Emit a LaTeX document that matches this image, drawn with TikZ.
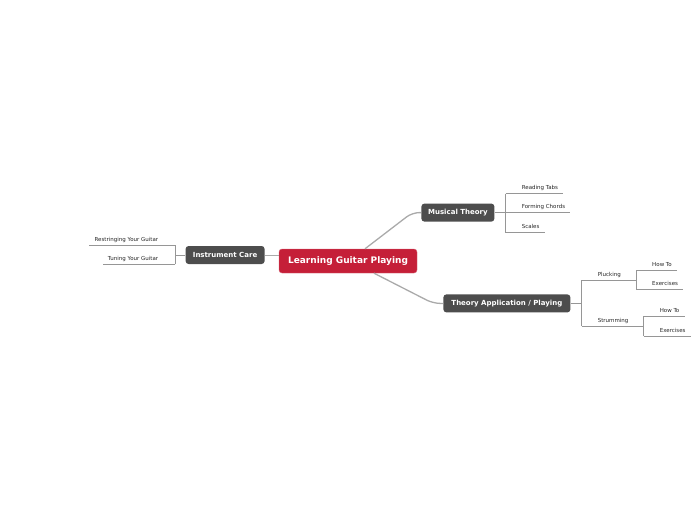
\documentclass[tikz,border=0pt]{standalone}
\usepackage{fontspec}
\setmainfont{DejaVu Sans}
\usepackage{tikz}
\usetikzlibrary{calc}
\usetikzlibrary{positioning}
\definecolor{rootred}{RGB}{197,31,56}
\definecolor{topicgray}{RGB}{77,77,77}
\definecolor{branchgray}{RGB}{170,170,170}
\definecolor{twiggray}{RGB}{150,150,150}

\begin{document}
\begin{tikzpicture}[x=1pt,y=-1pt,
    topic/.style={rounded corners=3pt,fill=topicgray,text=white,inner sep=0pt,
      minimum height=18pt,font=\bfseries\fontsize{7}{8}\selectfont},
    root/.style={topic,fill=rootred,draw=rootred!70!white,line width=0.4pt,
      minimum height=24pt,font=\bfseries\fontsize{9}{10}\selectfont},
    leaf/.style={inner xsep=5pt,inner ysep=2.5pt,text=black!85,
      text height=4pt,text depth=1.3pt,font=\fontsize{5.5}{6}\selectfont},
    leafR/.style={leaf,anchor=south west,xshift=11pt},
    leafL/.style={leaf,anchor=south east,xshift=-12pt},
    branch/.style={draw=branchgray,line width=1.3pt,rounded corners=7pt},
    twig/.style={draw=twiggray,line width=0.6pt}]
      \useasboundingbox (0,0) rectangle (697,520);
      \node[root,minimum width=138pt] (LGP) at (348,261) {Learning Guitar Playing};
      \node[topic,minimum width=73pt,above right=27pt and 4pt of LGP] (MT) {Musical Theory};
      \node[topic,minimum width=127pt,below right=21pt and 26pt of LGP] (TA) {Theory Application / Playing};
      \node[topic,minimum width=79pt,left=14pt of LGP,yshift=6pt] (IC) {Instrument Care};

      \draw[branch] ([xshift=17pt]LGP.north) -- ([xshift=-9pt]MT.west) -- (MT.west);
      \draw[branch] ([xshift=26pt]LGP.south) -- ([xshift=-10pt]TA.west) -- (TA.west);
      \draw[branch,line width=0.8pt] (IC.east) -- (IC.east -| LGP.west);

      \draw[twig,line width=0.9pt] (MT.east) -- ++(11,0) coordinate (jMT);
      \node[leafR] (RT) at ([yshift=19pt]jMT) {Reading Tabs};
      \node[leafR] (FC) at (jMT) {Forming Chords};
      \node[leafR] (SC) at ([yshift=-20pt]jMT) {Scales};
      \draw[twig] (jMT |- RT.south) -- (jMT |- SC.south);
      \draw[twig] (jMT |- RT.south) -- (RT.south east);
      \draw[twig] (jMT |- FC.south) -- (FC.south east);
      \draw[twig] (jMT |- SC.south) -- (SC.south east);

      \draw[twig,line width=0.9pt] (IC.west) -- ++(-10,0) coordinate (jIC);
      \node[leafL] (RG) at ([yshift=10pt]jIC) {Restringing Your Guitar};
      \node[leafL] (TG) at ([yshift=-9pt]jIC) {Tuning Your Guitar};
      \draw[twig] (jIC |- RG.south) -- (jIC |- TG.south);
      \draw[twig] (jIC |- RG.south) -- (RG.south west);
      \draw[twig] (jIC |- TG.south) -- (TG.south west);

      \draw[twig,line width=0.9pt] (TA.east) -- ++(11,0) coordinate (jTA);
      \node[leafR] (PL) at ([yshift=23pt]jTA) {Plucking};
      \node[leafR] (ST) at ([yshift=-23pt]jTA) {Strumming};
      \draw[twig] (jTA |- PL.south) -- (jTA |- ST.south);
      \draw[twig] (jTA |- PL.south) -- (PL.south east);
      \draw[twig] (jTA |- ST.south) -- (ST.south east);

      \draw[twig,line width=0.9pt] (PL.south east) -- ++(10,0) coordinate (jPL);
      \node[leafR] (PH) at ([yshift=10pt]jPL) {How To};
      \node[leafR] (PE) at ([yshift=-9pt]jPL) {Exercises};
      \draw[twig] (jPL |- PH.south) -- (jPL |- PE.south);
      \draw[twig] (jPL |- PH.south) -- (PH.south east);
      \draw[twig] (jPL |- PE.south) -- (PE.south east);

      \draw[twig,line width=0.9pt] (ST.south east) -- ++(10,0) coordinate (jST);
      \node[leafR] (SH) at ([yshift=10pt]jST) {How To};
      \node[leafR] (SE) at ([yshift=-10pt]jST) {Exercises};
      \draw[twig] (jST |- SH.south) -- (jST |- SE.south);
      \draw[twig] (jST |- SH.south) -- (SH.south east);
      \draw[twig] (jST |- SE.south) -- (SE.south east);
\end{tikzpicture}
\end{document}
